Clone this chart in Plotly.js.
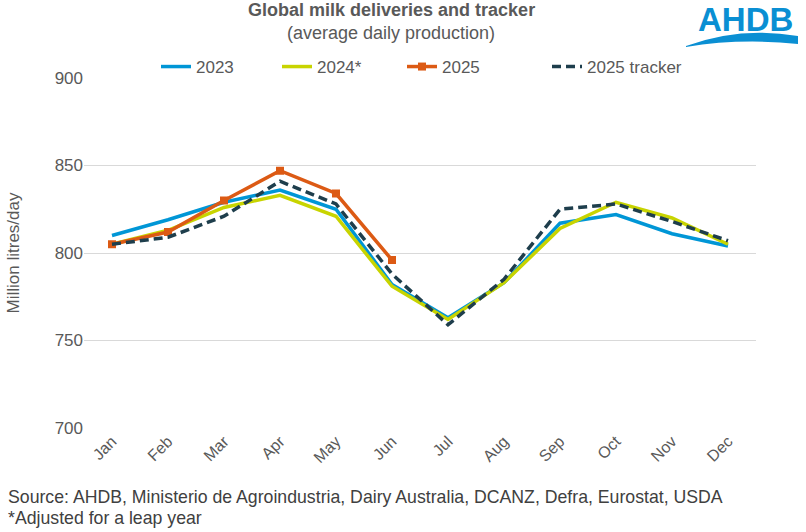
<!DOCTYPE html>
<html><head><meta charset="utf-8">
<script src="https://cdn.plot.ly/plotly-3.0.1.min.js"></script>
<style>body{margin:0;background:#fff}#c{width:806px;height:532px}</style>
</head><body><div id="c"></div>
<script>
const months = ["Jan","Feb","Mar","Apr","May","Jun","Jul","Aug","Sep","Oct","Nov","Dec"];
const y2023 = [810, 819, 829, 836, 825, 782, 763, 783, 817, 822, 811, 804];
const y2024 = [805, 813, 826, 833, 821, 781, 762, 783, 814, 829, 820, 805];
const y2025 = [805, 812, 830, 847, 834, 796];
const tracker = [805, 809, 821, 841, 828, 788, 759, 785, 825, 828, 818, 807];
const yTicks = [700, 750, 800, 850, 900];

const traces = [
  {x: months, y: y2023, name: "2023", mode: "lines", line: {color: "#0096D6", width: 3.5}, legend: "legend"},
  {x: months, y: y2024, name: "2024*", mode: "lines", line: {color: "#C8D400", width: 3.5}, legend: "legend2"},
  {x: months.slice(0, y2025.length), y: y2025, name: "2025", mode: "lines+markers",
   line: {color: "#DC5A14", width: 3.5}, marker: {symbol: "square", size: 8, color: "#DC5A14"}, legend: "legend3"},
  {x: months, y: tracker, name: "2025 tracker", mode: "lines", line: {color: "#1E3E4C", width: 3.5, dash: "9px,5px"}, legend: "legend4"}
];

function leg(px) {
  return {orientation: "h", x: px/806, xref: "container", xanchor: "left",
          y: 1 - 67/532, yref: "container", yanchor: "middle",
          font: {size: 17, color: "#595959"}, bgcolor: "rgba(0,0,0,0)", borderwidth: 0};
}
function py(pix) { return (428 - pix) / 350; }
function px(pix) { return (pix - 84) / 672; }

const layout = {
  width: 806, height: 532,
  margin: {l: 84, r: 50, t: 78, b: 104, autoexpand: false},
  paper_bgcolor: "#fff", plot_bgcolor: "#fff",
  font: {family: "Liberation Sans, Arial, sans-serif", color: "#595959"},
  showlegend: true,
  legend: leg(156), legend2: leg(277), legend3: leg(402), legend4: leg(547),
  xaxis: {type: "category", tickangle: -45, tickfont: {size: 16, color: "#595959"},
          showgrid: false, showline: false, ticks: "", range: [-0.5, 11.5]},
  yaxis: {range: [700, 900], tickvals: yTicks, tickfont: {size: 17, color: "#595959"},
          showgrid: true, gridcolor: "#D9D9D9", gridwidth: 1, zeroline: false, showline: false, ticks: "", ticklen: 0,
          title: {text: "Million litres/day", font: {size: 17, color: "#595959"}, standoff: 30}},
  annotations: [
    {text: "<b>Global milk deliveries and tracker</b>", xref: "paper", yref: "paper", x: px(391), y: py(10),
     xanchor: "center", yanchor: "middle", showarrow: false, font: {size: 18, color: "#595959"}},
    {text: "(average daily production)", xref: "paper", yref: "paper", x: px(391), y: py(33),
     xanchor: "center", yanchor: "middle", showarrow: false, font: {size: 18, color: "#595959"}},
    {text: "Source: AHDB, Ministerio de Agroindustria, Dairy Australia, DCANZ, Defra, Eurostat, USDA",
     xref: "paper", yref: "paper", x: px(6), y: py(497), xanchor: "left", yanchor: "middle",
     showarrow: false, font: {size: 17.7, color: "#404040"}},
    {text: "*Adjusted for a leap year",
     xref: "paper", yref: "paper", x: px(6), y: py(518), xanchor: "left", yanchor: "middle",
     showarrow: false, font: {size: 17.7, color: "#404040"}},
    {text: "<b>AHDB</b>", xref: "paper", yref: "paper", x: px(745), y: py(0),
     xanchor: "center", yanchor: "top", borderpad: 0, showarrow: false,
     font: {size: 33, color: "#0A8FD3", family: "Liberation Sans, Arial"}}
  ],
  shapes: [
    {type: "path", xref: "paper", yref: "paper",
     path: "M " + px(686) + " " + py(46) + " Q " + px(740) + " " + py(26) + " " + px(798) + " " + py(36) +
           " L " + px(798) + " " + py(44) + " Q " + px(740) + " " + py(38) + " " + px(686) + " " + py(47) + " Z",
     fillcolor: "#0A8FD3", line: {width: 0}}
  ]
};
Plotly.newPlot("c", traces, layout, {displayModeBar: false, staticPlot: true});
</script></body></html>
